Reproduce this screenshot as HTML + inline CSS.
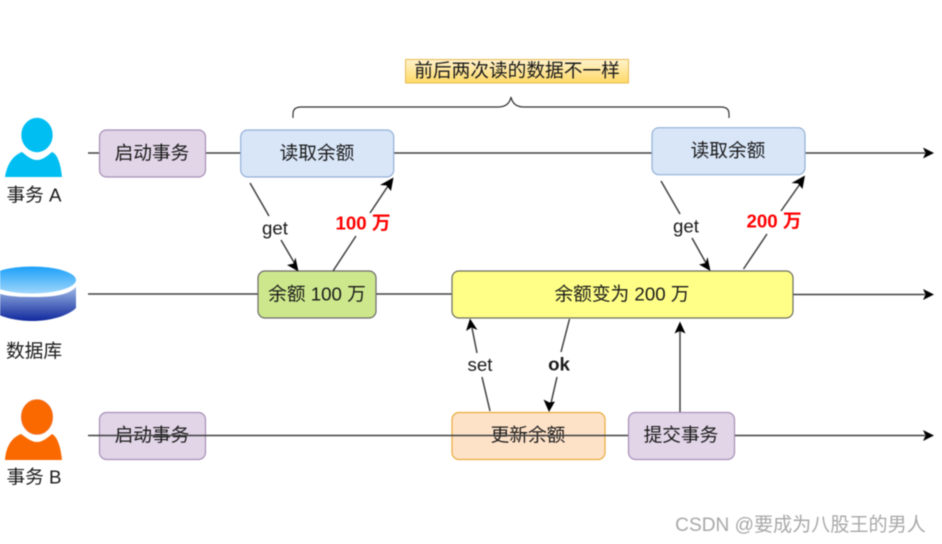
<!DOCTYPE html>
<html lang="zh">
<head>
<meta charset="utf-8">
<style>
html,body{margin:0;padding:0;background:#fff;width:942px;height:544px;overflow:hidden}
svg{display:block;filter:blur(.45px)}
text{font-family:"Liberation Sans","Noto Sans CJK SC",sans-serif;font-size:18.700px;fill:#1a1a1a;text-anchor:middle}
.b{font-weight:bold;fill:#ff0000;font-size:18.700px}
.l{stroke:#404040;stroke-width:1.500;fill:none}
.a{fill:#000}
</style>
</head>
<body>
<svg width="942" height="544" viewBox="0 0 942 544" xmlns="http://www.w3.org/2000/svg">
<defs>
<linearGradient id="t" x1="0" y1="0" x2="0" y2="1"><stop offset="0" stop-color="#fff2cc"/><stop offset="1" stop-color="#ffd966"/></linearGradient>
<linearGradient id="d1" x1="0" y1="0" x2="0" y2="1"><stop offset="0" stop-color="#1ba1f8"/><stop offset="1" stop-color="#9fd6fb"/></linearGradient>
<linearGradient id="d2" x1="0" y1="0" x2="0" y2="1"><stop offset="0" stop-color="#9db8e6"/><stop offset="1" stop-color="#10289c"/></linearGradient>
</defs>

<!-- person A -->
<ellipse cx="37" cy="135" rx="15.700" ry="17.200" fill="#00bef2"/>
<path d="M5 177C7 165 12 156 22 152C28 157 32 160 37 160C42 160 46 157 52 152C58 154 61 166 62 177Z" fill="#00bef2"/>
<text x="34" y="201.500">事务 A</text>

<!-- database -->
<path d="M-12 287V308C-4 316 14 321 32 321C50 321 68 316 76 308V287C68 296 50 297 32 297C14 297 -4 296 -12 287Z" fill="url(#d2)"/>
<ellipse cx="32" cy="280" rx="44" ry="13.500" fill="url(#d1)"/>
<text x="34" y="357.500">数据库</text>

<!-- person B -->
<ellipse cx="37" cy="417" rx="15.700" ry="17.500" fill="#fa6800" stroke="#e8743b" stroke-width=".6"/>
<path d="M5 460C6 447 11 438 21 434C28 439 32 442 37 442C42 442 46 439 52 434C58 437 61 449 62 460Z" fill="#fa6800"/>
<text x="34" y="483.500">事务 B</text>

<!-- brace -->
<path d="M293 118V114Q293 107 301 107H498Q509 107 511 97Q513 107 524 107H721Q729 107 729 114V118" fill="none" stroke="#333" stroke-width="1.200"/>

<!-- title -->
<rect x="405.500" y="59.500" width="223" height="23.500" fill="url(#t)" stroke="#e8bb55"/>
<text x="517" y="77">前后两次读的数据不一样</text>

<!-- timeline A -->
<line class="l" x1="88" y1="153" x2="99" y2="153"/>
<line class="l" x1="205" y1="153" x2="241" y2="153"/>
<line class="l" x1="393" y1="153" x2="652" y2="153"/>
<line class="l" x1="805" y1="153" x2="925" y2="153"/>
<path class="a" d="M934 153L923 147.500L925.500 153L923 158.500Z"/>
<rect x="99.500" y="130" width="106" height="47" rx="7" fill="#e1d5e7" stroke="#a88fb8" stroke-width="1.200"/>
<text x="152" y="159.500">启动事务</text>
<rect x="240.700" y="130" width="153" height="47" rx="7" fill="#d8e6f8" stroke="#93b0d6" stroke-width="1.200"/>
<text x="317" y="159.500">读取余额</text>
<rect x="652" y="127.700" width="153" height="47" rx="7" fill="#d8e6f8" stroke="#93b0d6" stroke-width="1.200"/>
<text x="728" y="157">读取余额</text>

<!-- timeline DB -->
<line class="l" x1="88" y1="294" x2="258" y2="294"/>
<line class="l" x1="376" y1="294" x2="452" y2="294"/>
<line class="l" x1="793" y1="294.500" x2="925" y2="294.500"/>
<path class="a" d="M934 294.500L923 289L925.500 294.500L923 300Z"/>
<rect x="258" y="271" width="118" height="47" rx="7" fill="#cde88c" stroke="#6b6b6b" stroke-width="1.200"/>
<text x="317" y="300.500">余额 100 万</text>
<rect x="452" y="271" width="341" height="47" rx="7" fill="#ffff88" stroke="#6e6e5e" stroke-width="1.200"/>
<text x="622" y="300.500">余额变为 200 万</text>

<!-- arrows -->
<path class="l" d="M250 183L269 216M281 240L295 264"/>
<path class="a" d="M298.500 271.500L287 265L293.500 263.500L295.500 257.500Z"/>
<path class="l" d="M333 271L356 236M370 213L388 186"/>
<path class="a" d="M393.500 177.500L391 191L386.500 185.500L380 185Z"/>
<path class="l" d="M661 181L680 214M692 238L706 263"/>
<path class="a" d="M710.500 271L699 264.500L705.500 263L707.500 257Z"/>
<path class="l" d="M743.500 269L767 234M781 211L800 184"/>
<path class="a" d="M805 175.500L802.500 189L798 183.500L791.500 183Z"/>
<path class="l" d="M490 411L482 377M477 353L472 328"/>
<path class="a" d="M470 318.500L477.500 330L471.500 327.500L466 331Z"/>
<path class="l" d="M569.500 319L561 352M557 377L551 403"/>
<path class="a" d="M549 412L543.500 399.500L549.500 402.500L555 401.500Z"/>
<path class="l" d="M680 412V330" stroke-width="1.700"/>
<path class="a" d="M680 321.500L685.500 333.500L680 331L674.500 333.500Z"/>

<text x="275" y="234.500">get</text>
<text x="686" y="232.500">get</text>
<text class="b" x="363" y="229.500">100 万</text>
<text class="b" x="774" y="227.500">200 万</text>
<text x="480" y="371">set</text>
<text x="559" y="370.500" style="font-weight:bold">ok</text>

<!-- timeline B boxes -->
<rect x="99.500" y="412.500" width="106" height="47" rx="7" fill="#e1d5e7" stroke="#a88fb8" stroke-width="1.200"/>
<text x="152" y="441.500">启动事务</text>
<rect x="452" y="412.500" width="153" height="47" rx="7" fill="#fee2c8" stroke="#e8ac3a" stroke-width="1.200"/>
<text x="528" y="441.500">更新余额</text>
<line class="l" x1="88" y1="435.500" x2="628" y2="435.500"/>
<rect x="628.500" y="412.500" width="106" height="47" rx="7" fill="#e1d5e7" stroke="#a88fb8" stroke-width="1.200"/>
<text x="681" y="441.500">提交事务</text>
<line class="l" x1="735" y1="435.500" x2="925" y2="435.500"/>
<path class="a" d="M934 435.500L923 430L925.500 435.500L923 441Z"/>

<!-- watermark -->
<text x="800.500" y="531" style="font-size:19.100px;fill:#a8a8a8">CSDN @要成为八股王的男人</text>
</svg>
</body>
</html>
